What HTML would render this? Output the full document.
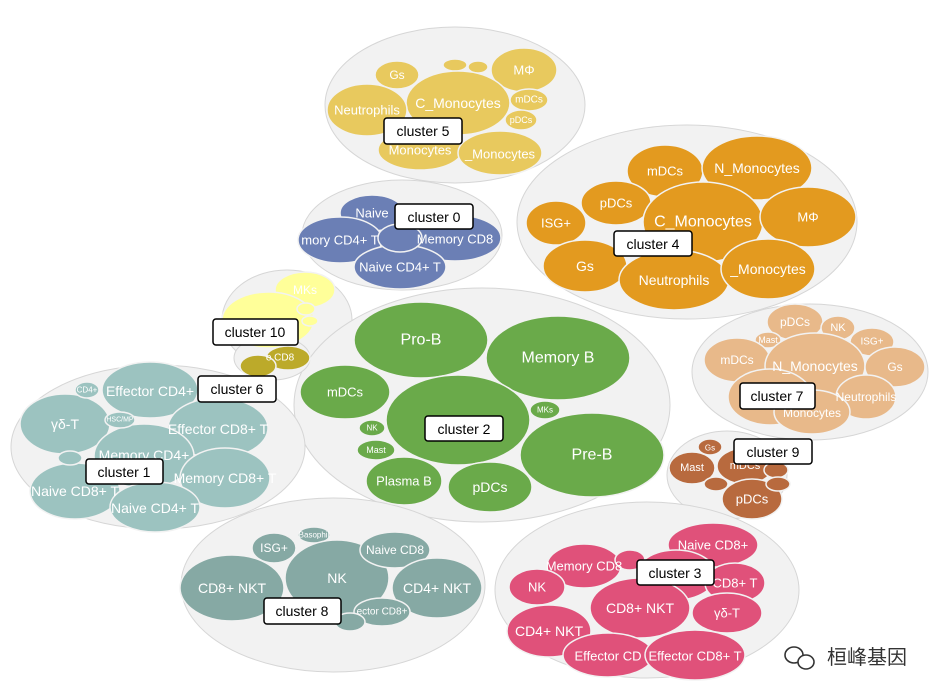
<!DOCTYPE html>
<html><head><meta charset="utf-8"><style>
body{margin:0;background:#fff}
svg{display:block}
text{font-family:"Liberation Sans",sans-serif;fill:#fff;text-anchor:middle;dominant-baseline:central}
.o{fill:#f2f2f2;stroke:#d6d6d6;stroke-width:1}
g.b ellipse{stroke:#f2f2f2;stroke-width:1.5}
.lb rect{fill:#fff;stroke:#000;stroke-width:1.5}
.lb text{fill:#000;font-size:14px}
</style></head><body>
<svg width="948" height="700" viewBox="0 0 948 700">
<ellipse class="o" cx="455" cy="105" rx="130" ry="78"/>
<ellipse class="o" cx="687" cy="222" rx="170" ry="97"/>
<ellipse class="o" cx="402" cy="235" rx="100" ry="55"/>
<ellipse class="o" cx="287" cy="320" rx="65" ry="50"/>
<ellipse class="o" cx="482" cy="405" rx="188" ry="117"/>
<ellipse class="o" cx="810" cy="372" rx="118" ry="68"/>
<ellipse class="o" cx="727" cy="475" rx="60" ry="44"/>
<ellipse class="o" cx="272" cy="358" rx="38" ry="22"/>
<ellipse class="o" cx="158" cy="447" rx="147" ry="82"/>
<ellipse class="o" cx="333" cy="585" rx="152" ry="87"/>
<ellipse class="o" cx="647" cy="590" rx="152" ry="88"/>

<g class="b" fill="#e8c95e">
<ellipse cx="397" cy="75" rx="22" ry="14"/><ellipse cx="524" cy="70" rx="33" ry="22"/>
<ellipse cx="455" cy="65" rx="12" ry="6"/><ellipse cx="478" cy="67" rx="10" ry="6"/>
<ellipse cx="458" cy="103" rx="52" ry="32"/><ellipse cx="367" cy="110" rx="40" ry="26"/>
<ellipse cx="529" cy="100" rx="19" ry="11"/><ellipse cx="521" cy="120" rx="16" ry="10"/>
<ellipse cx="420" cy="150" rx="42" ry="20"/><ellipse cx="500" cy="153" rx="42" ry="22"/>
</g>
<g font-size="13"><text x="397" y="75" font-size="12">Gs</text><text x="524" y="70">MΦ</text>
<text x="458" y="103" font-size="14">C_Monocytes</text><text x="367" y="110">Neutrophils</text>
<text x="529" y="100" font-size="10">mDCs</text><text x="521" y="120" font-size="9">pDCs</text>
<text x="420" y="150">Monocytes</text><text x="500" y="154">_Monocytes</text></g>

<g class="b" fill="#6b7fb5">
<ellipse cx="372" cy="213" rx="32" ry="18"/><ellipse cx="340" cy="240" rx="42" ry="23"/>
<ellipse cx="455" cy="238" rx="46" ry="23"/><ellipse cx="400" cy="267" rx="46" ry="22"/>
<ellipse cx="400" cy="238" rx="22" ry="14"/>
</g>
<g font-size="13"><text x="372" y="213">Naive</text><text x="340" y="240">mory CD4+ T</text>
<text x="455" y="239">Memory CD8</text><text x="400" y="267">Naive CD4+ T</text></g>

<g class="b" fill="#e39a1f">
<ellipse cx="665" cy="171" rx="38" ry="26"/><ellipse cx="757" cy="168" rx="55" ry="32"/>
<ellipse cx="616" cy="203" rx="35" ry="22"/><ellipse cx="703" cy="222" rx="60" ry="40"/>
<ellipse cx="808" cy="217" rx="48" ry="30"/><ellipse cx="556" cy="223" rx="30" ry="22"/>
<ellipse cx="585" cy="266" rx="42" ry="26"/><ellipse cx="674" cy="280" rx="55" ry="30"/>
<ellipse cx="768" cy="269" rx="47" ry="30"/>
</g>
<g font-size="13"><text x="665" y="171">mDCs</text><text x="757" y="168" font-size="14">N_Monocytes</text>
<text x="616" y="203">pDCs</text><text x="703" y="222" font-size="16">C_Monocytes</text>
<text x="808" y="217">MΦ</text><text x="556" y="223">ISG+</text><text x="585" y="266" font-size="14">Gs</text>
<text x="674" y="280" font-size="14">Neutrophils</text><text x="768" y="269" font-size="14">_Monocytes</text></g>

<g class="b" fill="#ffff99">
<ellipse cx="305" cy="290" rx="30" ry="18"/><ellipse cx="268" cy="320" rx="46" ry="28"/>
<ellipse cx="306" cy="309" rx="9" ry="6"/><ellipse cx="310" cy="321" rx="8" ry="5"/>
</g>
<text x="305" y="290" font-size="12">MKs</text>
<g class="b" fill="#bcaa2a"><ellipse cx="288" cy="358" rx="22" ry="12"/><ellipse cx="258" cy="366" rx="18" ry="11"/></g>
<text x="280" y="358" font-size="10">e CD8</text>

<g class="b" fill="#6aaa4a">
<ellipse cx="421" cy="340" rx="67" ry="38"/><ellipse cx="558" cy="358" rx="72" ry="42"/>
<ellipse cx="345" cy="392" rx="45" ry="27"/><ellipse cx="458" cy="420" rx="72" ry="45"/>
<ellipse cx="545" cy="410" rx="15" ry="9"/><ellipse cx="592" cy="455" rx="72" ry="42"/>
<ellipse cx="372" cy="428" rx="13" ry="8"/><ellipse cx="376" cy="450" rx="19" ry="10"/>
<ellipse cx="404" cy="481" rx="38" ry="24"/><ellipse cx="490" cy="487" rx="42" ry="25"/>
</g>
<g font-size="15"><text x="421" y="340" font-size="16">Pro-B</text><text x="558" y="358" font-size="16">Memory B</text>
<text x="345" y="392" font-size="13">mDCs</text><text x="545" y="410" font-size="8">MKs</text>
<text x="592" y="455" font-size="16">Pre-B</text><text x="372" y="428" font-size="8">NK</text>
<text x="376" y="450" font-size="9">Mast</text><text x="404" y="481" font-size="13">Plasma B</text>
<text x="490" y="487" font-size="14">pDCs</text></g>

<g class="b" fill="#e8b98a">
<ellipse cx="795" cy="322" rx="28" ry="18"/><ellipse cx="838" cy="328" rx="17" ry="12"/>
<ellipse cx="872" cy="342" rx="22" ry="14"/><ellipse cx="768" cy="340" rx="13" ry="8"/>
<ellipse cx="737" cy="360" rx="33" ry="22"/><ellipse cx="815" cy="366" rx="50" ry="33"/>
<ellipse cx="895" cy="367" rx="30" ry="20"/><ellipse cx="770" cy="397" rx="42" ry="28"/>
<ellipse cx="866" cy="397" rx="30" ry="22"/><ellipse cx="812" cy="412" rx="38" ry="22"/>
</g>
<g font-size="12"><text x="795" y="322">pDCs</text><text x="838" y="328" font-size="11">NK</text>
<text x="872" y="342" font-size="10">ISG+</text><text x="768" y="340" font-size="9">Mast</text>
<text x="737" y="360">mDCs</text><text x="815" y="366" font-size="14">N_Monocytes</text>
<text x="895" y="367">Gs</text><text x="866" y="397">Neutrophils</text><text x="812" y="413">Monocytes</text></g>

<g class="b" fill="#b86a3e">
<ellipse cx="710" cy="447" rx="12" ry="8"/><ellipse cx="692" cy="468" rx="23" ry="16"/>
<ellipse cx="745" cy="466" rx="28" ry="18"/><ellipse cx="752" cy="499" rx="30" ry="20"/>
<ellipse cx="716" cy="484" rx="12" ry="7"/><ellipse cx="776" cy="470" rx="12" ry="8"/><ellipse cx="778" cy="484" rx="12" ry="7"/>
</g>
<g font-size="11"><text x="710" y="448" font-size="8">Gs</text><text x="692" y="468">Mast</text>
<text x="745" y="466">mDCs</text><text x="752" y="499" font-size="13">pDCs</text></g>

<g class="b" fill="#9cc3c0">
<ellipse cx="150" cy="390" rx="48" ry="28"/><ellipse cx="65" cy="424" rx="45" ry="30"/>
<ellipse cx="218" cy="428" rx="50" ry="30"/><ellipse cx="144" cy="456" rx="50" ry="32"/>
<ellipse cx="225" cy="478" rx="45" ry="30"/><ellipse cx="75" cy="491" rx="45" ry="28"/>
<ellipse cx="155" cy="507" rx="45" ry="25"/><ellipse cx="120" cy="420" rx="15" ry="8"/>
<ellipse cx="87" cy="390" rx="12" ry="8"/><ellipse cx="70" cy="458" rx="12" ry="7"/>
</g>
<g font-size="14"><text x="150" y="391">Effector CD4+</text><text x="65" y="424">γδ-T</text>
<text x="218" y="429">Effector CD8+ T</text><text x="144" y="455">Memory CD4+</text>
<text x="225" y="478">Memory CD8+ T</text><text x="75" y="491">Naive CD8+ T</text>
<text x="155" y="508">Naive CD4+ T</text><text x="120" y="420" font-size="7">HSC/MP</text>
<text x="87" y="390" font-size="8">CD4+</text></g>

<g class="b" fill="#86a9a4">
<ellipse cx="274" cy="548" rx="22" ry="15"/><ellipse cx="314" cy="535" rx="16" ry="8"/>
<ellipse cx="337" cy="578" rx="52" ry="38"/><ellipse cx="232" cy="588" rx="52" ry="33"/>
<ellipse cx="395" cy="550" rx="35" ry="18"/><ellipse cx="437" cy="588" rx="45" ry="30"/>
<ellipse cx="382" cy="612" rx="28" ry="14"/><ellipse cx="350" cy="622" rx="15" ry="9"/>
</g>
<g font-size="14"><text x="274" y="548" font-size="12">ISG+</text><text x="314" y="535" font-size="8">Basophil</text>
<text x="337" y="578">NK</text><text x="232" y="588">CD8+ NKT</text>
<text x="395" y="550" font-size="12">Naive CD8</text><text x="437" y="588">CD4+ NKT</text>
<text x="382" y="612" font-size="10">ector CD8+</text></g>

<g class="b" fill="#e0517a">
<ellipse cx="713" cy="545" rx="45" ry="22"/><ellipse cx="584" cy="566" rx="37" ry="22"/>
<ellipse cx="537" cy="587" rx="28" ry="18"/><ellipse cx="630" cy="560" rx="15" ry="10"/>
<ellipse cx="676" cy="575" rx="40" ry="25"/><ellipse cx="735" cy="583" rx="30" ry="20"/>
<ellipse cx="640" cy="608" rx="50" ry="30"/><ellipse cx="727" cy="613" rx="35" ry="20"/>
<ellipse cx="549" cy="631" rx="42" ry="26"/><ellipse cx="608" cy="655" rx="45" ry="22"/>
<ellipse cx="695" cy="655" rx="50" ry="25"/>
</g>
<g font-size="13"><text x="713" y="545">Naive CD8+</text><text x="584" y="566">Memory CD8</text>
<text x="537" y="587">NK</text><text x="735" y="583">CD8+ T</text>
<text x="640" y="608" font-size="14">CD8+ NKT</text><text x="727" y="613">γδ-T</text>
<text x="549" y="631" font-size="14">CD4+ NKT</text><text x="608" y="656">Effector CD</text>
<text x="695" y="656">Effector CD8+ T</text></g>

<g class="lb">
<rect x="384" y="118" width="78" height="26" rx="3"/><text x="423" y="131">cluster 5</text>
<rect x="395" y="204" width="78" height="25" rx="3"/><text x="434" y="217">cluster 0</text>
<rect x="614" y="231" width="78" height="25" rx="3"/><text x="653" y="244">cluster 4</text>
<rect x="213" y="319" width="85" height="26" rx="3"/><text x="255" y="332">cluster 10</text>
<rect x="198" y="376" width="78" height="26" rx="3"/><text x="237" y="389">cluster 6</text>
<rect x="425" y="416" width="78" height="25" rx="3"/><text x="464" y="429">cluster 2</text>
<rect x="740" y="383" width="75" height="26" rx="3"/><text x="777" y="396">cluster 7</text>
<rect x="734" y="439" width="78" height="25" rx="3"/><text x="773" y="452">cluster 9</text>
<rect x="86" y="459" width="77" height="25" rx="3"/><text x="124" y="472">cluster 1</text>
<rect x="264" y="598" width="77" height="26" rx="3"/><text x="302" y="611">cluster 8</text>
<rect x="637" y="560" width="77" height="25" rx="3"/><text x="675" y="573">cluster 3</text>
</g>

<g fill="#fff" stroke="#333" stroke-width="1.6">
<ellipse cx="794" cy="655" rx="9" ry="8"/><ellipse cx="806" cy="662" rx="8" ry="7"/>
</g>
<text x="867" y="658" font-size="20" style="fill:#333;font-family:'Liberation Sans','Noto Sans CJK SC',sans-serif">桓峰基因</text>
</svg>
</body></html>
